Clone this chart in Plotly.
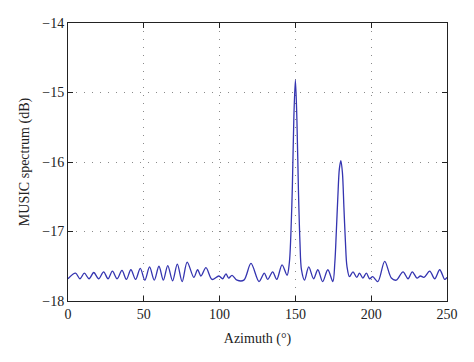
import plotly.graph_objects as go

# Azimuth knots (degrees) and MUSIC spectrum (dB)
azimuth = [0, 5, 7.9, 10.8, 13.9, 17, 20.2, 23.5, 26.4, 29.3, 32.4, 35.6, 38.5, 41.5, 44.6,
           47.7, 50.7, 53.8, 56.9, 60, 62.9, 65.8, 69, 72.1, 75.3, 78.6, 83, 85.5, 87.7, 91,
           95, 99.5, 102, 104.2, 106, 108.2, 111.5, 116, 120.7, 126, 129.5, 131.7, 135, 137.7,
           141.2, 144.5, 146, 147, 148, 149, 150, 151, 152, 153, 154, 156, 158.8, 162, 164.8,
           168, 171.4, 174.7, 176, 177, 178, 179, 180, 181, 182, 183, 184, 185.7, 188, 190.5,
           192.3, 194.5, 196.8, 199, 201, 204.4, 208.9, 213.3, 216.5, 221, 224.3, 227.1, 230.2,
           232.5, 234.8, 238.6, 241.9, 245.2, 248.5, 250]
spectrum = [-17.68, -17.60, -17.68, -17.60, -17.68, -17.59, -17.68, -17.58, -17.68, -17.57,
            -17.68, -17.56, -17.69, -17.55, -17.69, -17.53, -17.70, -17.51, -17.70, -17.50,
            -17.70, -17.49, -17.71, -17.47, -17.72, -17.44, -17.66, -17.55, -17.64, -17.52,
            -17.69, -17.64, -17.68, -17.61, -17.67, -17.63, -17.70, -17.70, -17.46, -17.72,
            -17.60, -17.69, -17.58, -17.69, -17.48, -17.63, -17.45, -17.05, -16.35, -15.35,
            -14.82, -15.40, -16.40, -17.15, -17.55, -17.70, -17.51, -17.68, -17.55, -17.72,
            -17.55, -17.72, -17.45, -17.00, -16.50, -16.10, -15.98, -16.15, -16.65, -17.15,
            -17.50, -17.65, -17.58, -17.66, -17.60, -17.67, -17.60, -17.68, -17.65, -17.72,
            -17.43, -17.67, -17.70, -17.58, -17.68, -17.58, -17.67, -17.64, -17.66, -17.57,
            -17.68, -17.55, -17.69, -17.66]

x_ticks = [0, 50, 100, 150, 200, 250]
y_ticks = [-18, -17, -16, -15, -14]

FONT = "Liberation Serif"

fig = go.Figure()
fig.add_trace(go.Scatter(
    x=azimuth, y=spectrum, mode="lines",
    line=dict(color="#3434b0", width=1.3, shape="spline", smoothing=0.9),
    showlegend=False, hoverinfo="skip",
))

axis_common = dict(
    showline=True, linecolor="#222", linewidth=1, mirror="ticks",
    ticks="inside", ticklen=5, tickcolor="#222", tickwidth=1,
    showgrid=True, gridcolor="#8a8a8a", griddash="1px,7px", gridwidth=1,
    zeroline=False, tickfont=dict(family=FONT, size=14, color="#222"),
    automargin=False,
)

fig.update_xaxes(range=[0, 250], tickvals=x_ticks,
                 title=dict(text="Azimuth (°)", font=dict(family=FONT, size=14, color="#222"), standoff=12),
                 **axis_common)
fig.update_yaxes(range=[-18, -14], tickvals=y_ticks,
                 ticktext=[f"\u2212{abs(v)}" for v in y_ticks],
                 title=dict(text="MUSIC spectrum (dB)", font=dict(family=FONT, size=14, color="#222"), standoff=9),
                 **axis_common)

fig.update_layout(
    width=474, height=362,
    margin=dict(l=60, r=35, t=15, b=69),
    paper_bgcolor="white", plot_bgcolor="white",
    font=dict(family=FONT, size=14, color="#222"),
)

fig.write_html("out.html")
